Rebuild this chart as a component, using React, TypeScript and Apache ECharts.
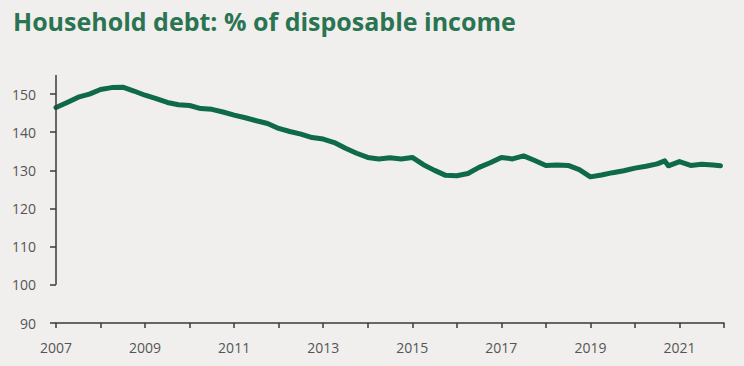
import React, { useEffect, useRef } from "react";
import * as echarts from "echarts";

const quarters: number[] = [
  2007.0, 2007.25, 2007.5, 2007.75,
  2008.0, 2008.25, 2008.5, 2008.75,
  2009.0, 2009.25, 2009.5, 2009.75,
  2010.0, 2010.25, 2010.5, 2010.75,
  2011.0, 2011.25, 2011.5, 2011.75,
  2012.0, 2012.25, 2012.5, 2012.75,
  2013.0, 2013.25, 2013.5, 2013.75,
  2014.0, 2014.25, 2014.5, 2014.75,
  2015.0, 2015.25, 2015.5, 2015.75,
  2016.0, 2016.25, 2016.5, 2016.75,
  2017.0, 2017.25, 2017.5, 2017.75,
  2018.0, 2018.25, 2018.5, 2018.75,
  2019.0, 2019.25, 2019.5, 2019.75,
  2020.0, 2020.25, 2020.5, 2020.67, 2020.75,
  2021.0, 2021.25, 2021.5, 2021.75, 2021.92,
];

const debtRatio: number[] = [
  146.5, 147.8, 149.2, 150.0,
  151.2, 151.7, 151.8, 150.8,
  149.7, 148.8, 147.8, 147.2,
  147.0, 146.2, 146.0, 145.3,
  144.5, 143.8, 143.0, 142.3,
  141.0, 140.2, 139.5, 138.6,
  138.2, 137.3, 135.8, 134.5,
  133.4, 133.0, 133.3, 133.0,
  133.4, 131.5, 130.0, 128.7,
  128.6, 129.2, 130.8, 132.0,
  133.4, 133.0, 133.8, 132.6,
  131.3, 131.4, 131.3, 130.2,
  128.3, 128.8, 129.4, 129.9,
  130.6, 131.1, 131.7, 132.5, 131.2,
  132.3, 131.3, 131.6, 131.4, 131.2,
];

const yTickValues: number[] = [90, 100, 110, 120, 130, 140, 150];
const xTickValues: number[] = [
  2007, 2008, 2009, 2010, 2011, 2012, 2013, 2014,
  2015, 2016, 2017, 2018, 2019, 2020, 2021, 2022,
];
const xLabelValues: number[] = [2007, 2009, 2011, 2013, 2015, 2017, 2019, 2021];

const TITLE = "Household debt: % of disposable income";

export default function App() {
  const ref = useRef<HTMLDivElement>(null);

  useEffect(() => {
    if (!ref.current) return;
    const chart = echarts.init(ref.current, undefined, { renderer: "svg" });
    const axisColor = "#3a3a3a";
    const labelColor = "#555555";
    chart.setOption({
      animation: false,
      backgroundColor: "#f0efed",
      title: {
        text: TITLE,
        left: 8,
        top: 3,
        textStyle: {
          fontFamily: "Open Sans",
          fontWeight: 700,
          fontSize: 25,
          color: "#2a7452",
        },
      },
      grid: { left: 56, right: 20, top: 75, bottom: 43, containLabel: false },
      xAxis: {
        type: "value",
        min: 2007,
        max: 2022,
        axisLine: { show: true, lineStyle: { color: axisColor, width: 1.5 } },
        axisTick: {
          show: true,
          length: 5,
          customValues: xTickValues,
          lineStyle: { color: axisColor, width: 1.5 },
        },
        axisLabel: {
          customValues: xLabelValues,
          margin: 17,
          color: labelColor,
          fontFamily: "Open Sans",
          fontSize: 14,
          formatter: (v: number) => String(Math.round(v)),
        },
        splitLine: { show: false },
      },
      yAxis: {
        type: "value",
        min: 90,
        max: 155,
        axisLine: { show: false },
        axisTick: {
          show: true,
          length: 6,
          customValues: yTickValues,
          lineStyle: { color: axisColor, width: 1.5 },
        },
        axisLabel: {
          customValues: yTickValues,
          margin: 20,
          color: labelColor,
          fontFamily: "Open Sans",
          fontSize: 14,
        },
        splitLine: { show: false },
      },
      series: [
        {
          type: "line",
          data: quarters.map((q, i) => [q, debtRatio[i]]),
          showSymbol: false,
          symbol: "none",
          lineStyle: { color: "#0e6a47", width: 5, cap: "round", join: "round" },
          markLine: {
            silent: true,
            symbol: "none",
            label: { show: false },
            lineStyle: { color: axisColor, width: 1.5, type: "solid" },
            data: [[{ coord: [2007, 100] }, { coord: [2007, 155] }]],
          },
          z: 3,
        },
      ],
    });
    return () => chart.dispose();
  }, []);

  return (
    <div
      style={{
        position: "fixed",
        left: 0,
        top: 0,
        width: 744,
        height: 366,
        background: "#f0efed",
      }}
    >
      <div ref={ref} style={{ width: 744, height: 366 }} />
    </div>
  );
}
